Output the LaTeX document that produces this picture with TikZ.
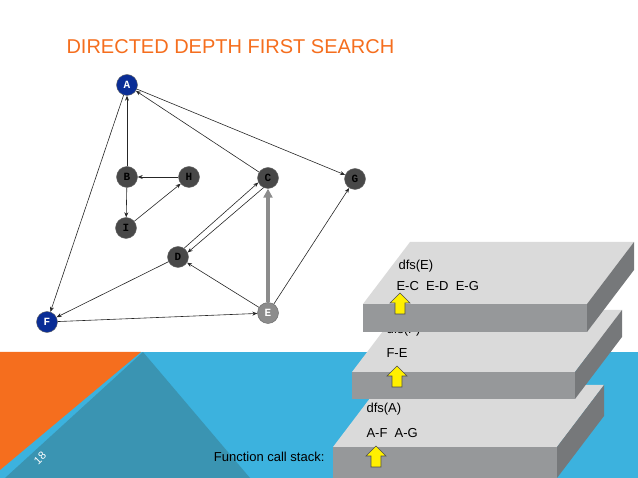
\documentclass[tikz,border=0pt]{standalone}
\usepackage{fontspec}
\setmainfont{Liberation Sans}
\newfontfamily\monofont{Liberation Mono}
\usetikzlibrary{arrows.meta}
\usetikzlibrary{calc}
\usetikzlibrary{positioning}
\definecolor{slideorange}{RGB}{245,110,30}
\definecolor{slideblue}{RGB}{60,178,222}
\definecolor{slideteal}{RGB}{58,148,178}
\definecolor{nodeblue}{RGB}{10,45,150}
\definecolor{nodegray}{RGB}{72,72,72}
\definecolor{topgray}{RGB}{218,218,218}
\definecolor{frontgray}{RGB}{150,152,154}
\definecolor{sidegray}{RGB}{118,120,122}
\definecolor{arrowyellow}{RGB}{255,240,0}
\newcommand{\stackslab}[4]{% left x, right x, front top y, height
  \fill[topgray] (#1,#3) -- ++(47,-62) -- (#2+47,#3-62) -- (#2,#3) -- cycle;
  \fill[sidegray] (#2,#3) -- ++(47,-62) -- ++(0,#4) -- (#2,#3+#4) -- cycle;
  \fill[frontgray] (#1,#3) rectangle (#2,#3+#4);
}
\newcommand{\upmark}[2]{% centre x, top y
  \draw[fill=arrowyellow, draw=black!70, line width=0.6pt] (#1,#2) -- ++(10,10) -- ++(-5,0) -- ++(0,11) -- ++(-10,0) -- ++(0,-11) -- ++(-5,0) -- cycle;
}
\tikzset{
  vertex/.style={circle, draw=black!60, fill=nodegray, minimum size=21pt, inner sep=0pt, font=\monofont\bfseries\fontsize{11}{12}\selectfont, text=black},
  start/.style={vertex, fill=nodeblue, text=white},
  current/.style={vertex, fill=black!45, text=white},
  edge/.style={-{Stealth[length=5pt,width=4pt]}, black!85, line width=0.6pt},
  stacktext/.style={anchor=base west, font=\fontsize{13}{15}\selectfont}
}
\begin{document}
\begin{tikzpicture}[x=1pt, y=-1pt]
        \useasboundingbox (0, 0) rectangle (638, 478);

        % background bands
        \fill[slideblue] (0, 352) rectangle (638, 478);
        \fill[slideorange] (0, 352) -- (141, 352) -- (0, 470) -- cycle;
        \fill[slideteal] (143, 352) -- (250, 478) -- (5, 478) -- cycle;
        \node[white, rotate=45, font=\fontsize{11}{12}\selectfont] at (40, 458) {18};

        \node[anchor=base west, text=slideorange, font=\fontsize{20}{22}\selectfont] at (63, 54) {DIRECTED DEPTH FIRST SEARCH};

        % graph
        \node[start] (A) at (127, 85) {A};
        \node[vertex] (B) at (127, 177) {B};
        \node[vertex] (H) at (189, 177) {H};
        \node[vertex] (C) at (268, 178) {C};
        \node[vertex] (G) at (355, 179) {G};
        \node[vertex] (I) at (126, 228) {I};
        \node[vertex] (D) at (178, 257) {D};
        \node[start] (F) at (47, 322) {F};
        \node[current] (E) at (268, 313) {E};

        \draw[edge] (A) -- (G);
        \draw[edge] (A) -- (F);
        \draw[edge] (B) -- (A);
        \draw[edge] (H) -- (B);
        \draw[edge] (B) -- (I);
        \draw[edge] (I) -- (H);
        \draw[edge] (C) -- (A);
        \draw[edge] (D.55) -- (C.205);
        \draw[edge] (C.245) -- (D.25);
        \draw[edge] (E) -- (D);
        \draw[edge] (E) -- (G);
        \draw[edge] (D) -- (F);
        \draw[edge] (F) -- (E);
        \draw[-{Triangle[length=9pt,width=9pt]}, black!45, line width=4pt] (E) -- (C);

        % call stack
        \stackslab{333}{557}{447}{31}
        \node[stacktext] at (363, 413) {dfs(A)};
        \node[stacktext] at (363, 438) {A-F\ \ A-G};
        \upmark{376}{446}
        \node[anchor=base east, font=\fontsize{13}{15}\selectfont] at (328, 462) {Function call stack:};

        \stackslab{352}{575}{372}{27}
        \node[stacktext] at (383, 334) {dfs(F)};
        \node[stacktext] at (383, 358) {F-E};
        \upmark{397}{366}

        \stackslab{363}{587}{304}{28}
        \node[stacktext] at (395, 270) {dfs(E)};
        \node[stacktext] at (393, 291) {E-C\ \ E-D\ \ E-G};
        \upmark{400}{293}
\end{tikzpicture}
\end{document}
